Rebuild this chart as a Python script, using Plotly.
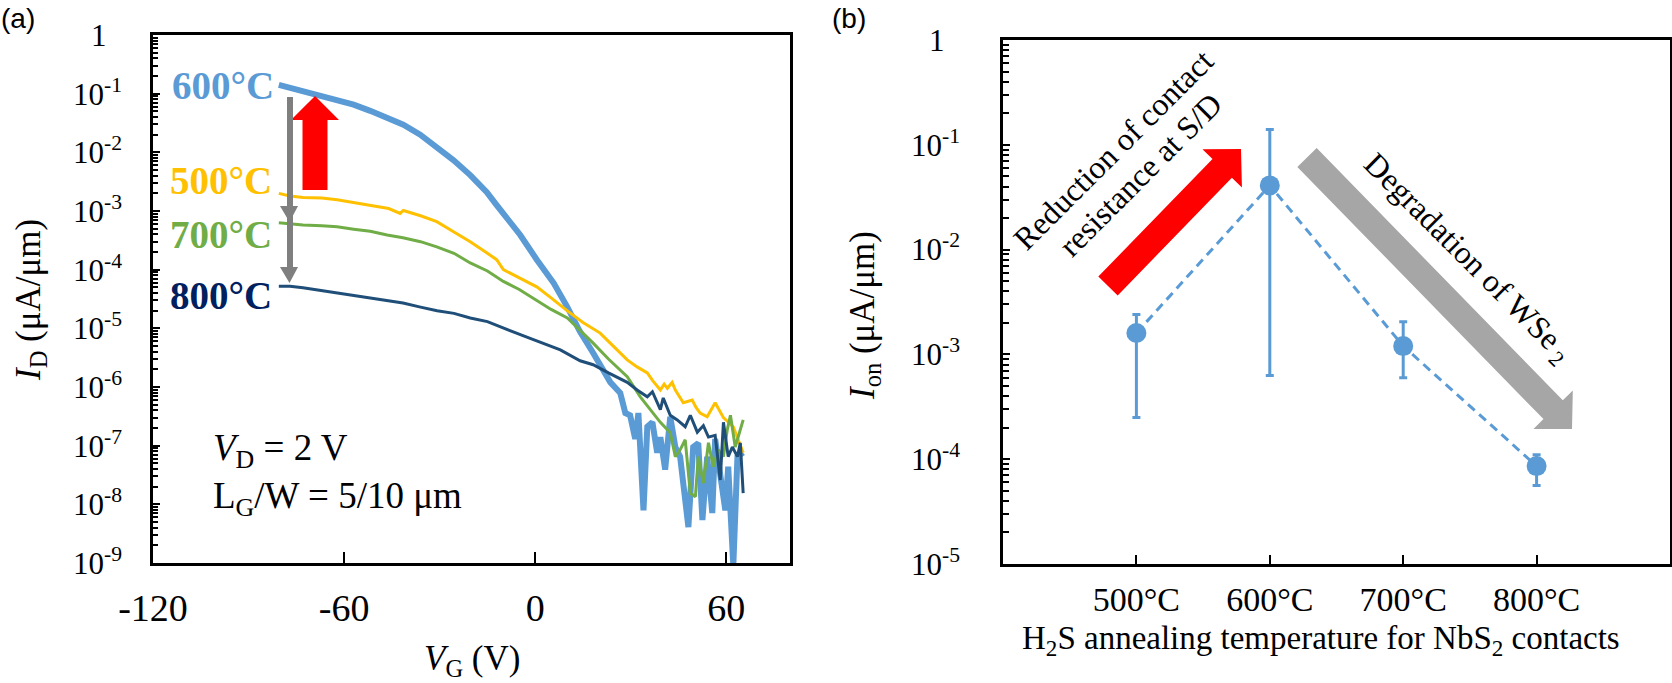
import math
import plotly.graph_objects as go

W, H = 1672, 683

# ---------------- Panel (a) data: ID vs VG ----------------
vg_600 = [-80.5, -75, -69, -63, -57, -51.8, -46.6, -41.4, -36.1, -30.9, -25.7, -20.4, -15.2, -12.1,
          -10.0, -4.7, 0.5, 5.8, 10.1, 14, 18.2, 21, 23.6, 26.7,
          28.3, 29.8, 31.4, 32.4, 34.0, 35.2, 36.8, 38.3, 39.3, 40.8, 42.4, 44.0, 45.5, 48.1,
          49.6, 51.2, 52.5, 54.0, 55.6, 56.5, 58.1, 59.7, 60.6, 62.2, 63.5, 65.3]
id_600 = [1.41e-1, 1.17e-1, 9.5e-2, 7.9e-2, 6.5e-2, 5.1e-2, 4.0e-2, 2.95e-2, 2.0e-2, 1.26e-2, 7.4e-3,
          4.1e-3, 2.1e-3, 1.26e-3, 9.1e-4, 3.9e-4, 1.48e-4, 5.9e-5, 2.3e-5, 8.9e-6,
          3.8e-6, 2.1e-6, 1.2e-6, 7.9e-7,
          3.6e-7, 3.3e-7, 1.3e-7, 3.6e-7, 7.9e-9, 2.1e-7, 2.5e-7, 7.6e-8, 1.4e-7, 3.9e-8, 3.1e-7,
          9.5e-8, 6.5e-8, 4.1e-9, 9.5e-8, 1.1e-7, 5.4e-9, 6.5e-8, 7.1e-9, 1.3e-7, 3.4e-8, 7.9e-9,
          4.4e-8, 9.0e-10, 6.5e-8, 7.6e-8]

vg_500 = [-80.5, -77, -72.9, -67, -62.2, -57, -51.8, -46, -42.4, -41.4, -36, -30.9, -25.5, -20.4,
          -15, -12.1, -10, -7.8, -4, 0.5, 5, 10, 15, 20.4, 25, 28.9, 32, 35.2, 37, 39.3, 40.5,
          41.5, 43, 44, 46.5, 49.3, 50.5, 51.8, 54, 56.5, 59.1, 62.2, 65.3]
id_500 = [2.0e-3, 1.8e-3, 1.7e-3, 1.66e-3, 1.55e-3, 1.4e-3, 1.26e-3, 1.1e-3, 9.1e-4, 1.02e-3,
          8.3e-4, 6.6e-4, 4.4e-4, 3.0e-4, 1.9e-4, 1.48e-4, 1.0e-4, 8.7e-5, 6.8e-5, 5.1e-5, 3.3e-5,
          2.0e-5, 1.26e-5, 8.3e-6, 4.7e-6, 2.9e-6, 2.2e-6, 1.74e-6, 1.26e-6, 8.9e-7, 1.12e-6,
          9.5e-7, 1.2e-6, 8.9e-7, 5.4e-7, 6.0e-7, 4.5e-7, 3.6e-7, 3.1e-7, 5.4e-7, 3.0e-7, 2.1e-7,
          7.6e-8]

vg_700 = [-80.5, -77, -72.9, -67, -62.2, -57, -51.8, -46.5, -41.5, -36, -30.9, -25.5, -20.4, -15,
          -10.0, -5, 0.6, 5, 10.1, 14, 18.2, 23, 28.9, 33, 36.1, 39.3, 42.4, 44.0, 45.5, 47.1,
          48.7, 50.3, 51.2, 52.8, 54.4, 55.9, 57.5, 59.1, 60.3, 61.3, 62.8, 64.4, 65.3]
id_700 = [6.3e-4, 6.0e-4, 5.8e-4, 5.6e-4, 5.4e-4, 4.9e-4, 4.5e-4, 3.9e-4, 3.5e-4, 3.0e-4, 2.45e-4,
          1.9e-4, 1.3e-4, 9.5e-5, 6.3e-5, 4.6e-5, 3.0e-5, 2.1e-5, 1.5e-5, 9.5e-6, 5.6e-6, 3.0e-6,
          1.5e-6, 6.8e-7, 4.1e-7, 2.5e-7, 1.66e-7, 6.5e-8, 8.5e-8, 1.26e-7, 1.55e-8, 1.35e-8,
          6.5e-8, 2.3e-8, 1.12e-7, 4.4e-8, 8.5e-8, 6.5e-8, 1.86e-7, 3.3e-7, 9.5e-8, 1.86e-7, 2.75e-7]

vg_800 = [-80.5, -77, -72.9, -67, -62.2, -57, -51.8, -46.5, -41.5, -36, -30.8, -25.5, -20.4, -15,
          -10, -6.9, -2, 3.8, 7.9, 14.1, 18.2, 23, 28.9, 32, 35.2, 36.8, 39.3, 40.2, 42.4, 44.6,
          47.1, 48.7, 50.9, 52.8, 54.4, 56.5, 58.1, 59.1, 60.6, 61.9, 63.5, 64.4, 65.3]
id_800 = [5.2e-5, 5.2e-5, 4.9e-5, 4.4e-5, 4.0e-5, 3.6e-5, 3.3e-5, 2.95e-5, 2.7e-5, 2.3e-5, 2.0e-5,
          1.8e-5, 1.5e-5, 1.3e-5, 1.0e-5, 8.7e-6, 6.9e-6, 5.2e-6, 4.3e-6, 2.8e-6, 2.4e-6, 1.74e-6,
          1.2e-6, 8.9e-7, 6.8e-7, 8.3e-7, 4.1e-7, 6.5e-7, 3.3e-7, 2.75e-7, 2.1e-7, 3.3e-7, 1.7e-7,
          2.2e-7, 1.4e-7, 1.5e-7, 2.6e-8, 2.5e-7, 6.5e-8, 9.5e-8, 6.5e-8, 1.12e-7, 1.55e-8]

# ---------------- Panel (b) data: Ion vs annealing temperature ----------------
temp_labels = ["500°C", "600°C", "700°C", "800°C"]
temp_pos = [1, 2, 3, 4]
ion_mean = [1.6e-3, 4.1e-2, 1.2e-3, 8.6e-5]
ion_upper = [2.4e-3, 1.4e-1, 2.05e-3, 1.1e-4]
ion_lower = [2.5e-4, 6.3e-4, 6.0e-4, 5.6e-5]

# tick labels
xa_ticks = [-120, -60, 0, 60]
xa_text = ["-120", "-60", "0", "60"]
ya_exps = [-9, -8, -7, -6, -5, -4, -3, -2, -1, 0]
yb_exps = [-5, -4, -3, -2, -1, 0]

C600, C500, C700, C800 = "#5B9BD5", "#FFC000", "#70AD47", "#1F4E79"
SERIF = "Liberation Serif, Times New Roman, serif"


def ylabel(e):
    return "1&nbsp;&nbsp;" if e == 0 else "10<sup>%d</sup>" % e


def minors(emin, emax):
    out = []
    for e in range(emin, emax):
        for m in range(2, 10):
            out.append(m * 10 ** e)
    return out


fig = go.Figure()
for vg, idv, col, w in [(vg_600, id_600, C600, 6), (vg_500, id_500, C500, 3),
                        (vg_700, id_700, C700, 3), (vg_800, id_800, C800, 3)]:
    fig.add_trace(go.Scatter(x=vg, y=idv, mode="lines", line=dict(color=col, width=w),
                             xaxis="x", yaxis="y", showlegend=False))

err_plus = [u - m for u, m in zip(ion_upper, ion_mean)]
err_minus = [m - l for m, l in zip(ion_mean, ion_lower)]
fig.add_trace(go.Scatter(x=temp_pos, y=ion_mean, mode="lines+markers",
                         line=dict(color=C600, width=3, dash="9px,6px"),
                         marker=dict(size=20, color=C600),
                         error_y=dict(type="data", symmetric=False, array=err_plus,
                                      arrayminus=err_minus, color=C600, thickness=3, width=4),
                         xaxis="x2", yaxis="y2", showlegend=False))

axis_common = dict(showline=True, linecolor="black", linewidth=2.5, mirror=True,
                   showgrid=False, zeroline=False, tickcolor="black", automargin=False)

fig.update_layout(
    template="none",
    width=W, height=H, margin=dict(l=0, r=0, t=0, b=0, autoexpand=False),
    paper_bgcolor="white", plot_bgcolor="white",
    xaxis=dict(domain=[153 / W, 790 / W], range=[-120, 80], tickmode="array",
               tickvals=xa_ticks, ticktext=xa_text, ticks="inside", ticklen=11, tickwidth=2,
               tickfont=dict(family=SERIF, size=38, color="black"), ticklabelstandoff=10,
               anchor="y", **axis_common),
    yaxis=dict(domain=[1 - 563 / H, 1 - 35 / H], type="log", range=[-9, 0], tickmode="array",
               tickvals=[10 ** e for e in ya_exps], ticktext=[ylabel(e) for e in ya_exps],
               ticks="inside", ticklen=7, tickwidth=2,
               minor=dict(tickvals=minors(-9, 0), ticks="inside", ticklen=5, tickwidth=1.5,
                          tickcolor="black", showgrid=False),
               tickfont=dict(family=SERIF, size=31, color="black"), ticklabelstandoff=22,
               anchor="x", **axis_common),
    xaxis2=dict(domain=[1003 / W, 1670 / W], range=[0, 5], tickmode="array",
                tickvals=temp_pos, ticktext=temp_labels, ticks="inside", ticklen=9, tickwidth=2,
                tickfont=dict(family=SERIF, size=34, color="black"), ticklabelstandoff=3,
                anchor="y2", **axis_common),
    yaxis2=dict(domain=[1 - 564 / H, 1 - 40 / H], type="log", range=[-5, 0], tickmode="array",
                tickvals=[10 ** e for e in yb_exps], ticktext=[ylabel(e) for e in yb_exps],
                ticks="inside", ticklen=7, tickwidth=2,
                minor=dict(tickvals=minors(-5, 0), ticks="inside", ticklen=6, tickwidth=1.5,
                           tickcolor="black", showgrid=False),
                tickfont=dict(family=SERIF, size=31, color="black"), ticklabelstandoff=34,
                anchor="x2", **axis_common),
)


def P(x, y):
    return "%.5f,%.5f" % (x / W, 1 - y / H)


def poly(points):
    return "M" + " L".join(P(x, y) for x, y in points) + " Z"


def block_arrow(x0, y0, x1, y1, sw, hw, hl):
    dx, dy = x1 - x0, y1 - y0
    L = math.hypot(dx, dy)
    ux, uy = dx / L, dy / L
    nx, ny = -uy, ux
    bx, by = x1 - ux * hl, y1 - uy * hl
    pts = [(x0 + nx * sw / 2, y0 + ny * sw / 2), (bx + nx * sw / 2, by + ny * sw / 2),
           (bx + nx * hw / 2, by + ny * hw / 2), (x1, y1),
           (bx - nx * hw / 2, by - ny * hw / 2), (bx - nx * sw / 2, by - ny * sw / 2),
           (x0 - nx * sw / 2, y0 - ny * sw / 2)]
    return poly(pts)


shapes = []
RED, GRAY_L, GRAY_R = "#FF0000", "#7F7F7F", "#A6A6A6"
shapes.append(dict(type="path", xref="paper", yref="paper", path=block_arrow(315, 190, 315, 96, 25, 48, 24),
                   fillcolor=RED, line=dict(width=0)))
shapes.append(dict(type="path", xref="paper", yref="paper",
                   path=poly([(287, 97), (293, 97), (293, 268), (287, 268)]),
                   fillcolor=GRAY_L, line=dict(width=0)))
for base, tip in [(206, 222), (267, 283)]:
    shapes.append(dict(type="path", xref="paper", yref="paper",
                       path=poly([(280, base), (298, base), (289.5, tip)]),
                       fillcolor=GRAY_L, line=dict(width=0)))
shapes.append(dict(type="path", xref="paper", yref="paper",
                   path=block_arrow(1108, 286, 1241, 149, 27, 55, 27), fillcolor=RED, line=dict(width=0)))
shapes.append(dict(type="path", xref="paper", yref="paper",
                   path=block_arrow(1307, 157.5, 1572, 429, 27, 55, 27), fillcolor=GRAY_R, line=dict(width=0)))
fig.update_layout(shapes=shapes)


def ann(text, x, y, size, color="black", family=SERIF, xanchor="center", yanchor="middle",
        angle=0, bold=False):
    if bold:
        text = "<b>" + text + "</b>"
    return dict(text=text, x=x / W, y=1 - y / H, xref="paper", yref="paper", showarrow=False,
                xanchor=xanchor, yanchor=yanchor, textangle=angle,
                font=dict(family=family, size=size, color=color))


anns = [
    ann("(a)", 18, 19, 28, family="Liberation Sans, Arial, sans-serif"),
    ann("(b)", 849, 18, 28, family="Liberation Sans, Arial, sans-serif"),
    ann("600°C", 276, 86, 39, C600, xanchor="right", bold=True),
    ann("500°C", 274, 180, 39, C500, xanchor="right", bold=True),
    ann("700°C", 274, 234, 39, C700, xanchor="right", bold=True),
    ann("800°C", 274, 295, 39, "#002060", xanchor="right", bold=True),
    ann("<i>V</i><sub>D</sub> = 2 V", 211, 450, 37, xanchor="left"),
    ann("L<sub>G</sub>/W = 5/10 μm", 211, 498, 37, xanchor="left"),
    ann("<i>V</i><sub>G</sub> (V)", 472, 660, 35),
    ann("<i>I</i><sub>D</sub> (μA/μm)", 30, 300, 35, angle=-90),
    ann("<i>I</i><sub>on</sub> (μA/μm)", 864, 316, 35, angle=-90),
    ann("H<sub>2</sub>S annealing temperature for NbS<sub>2</sub> contacts", 1321, 640, 33),
    ann("Reduction of contact", 1113, 150, 32, angle=-45),
    ann("resistance at S/D", 1140, 175, 32, angle=-45),
    ann("Degradation of WSe<sub> 2</sub>", 1467, 258, 32, angle=45),
]
fig.update_layout(annotations=anns)

fig.write_html("out.html")
